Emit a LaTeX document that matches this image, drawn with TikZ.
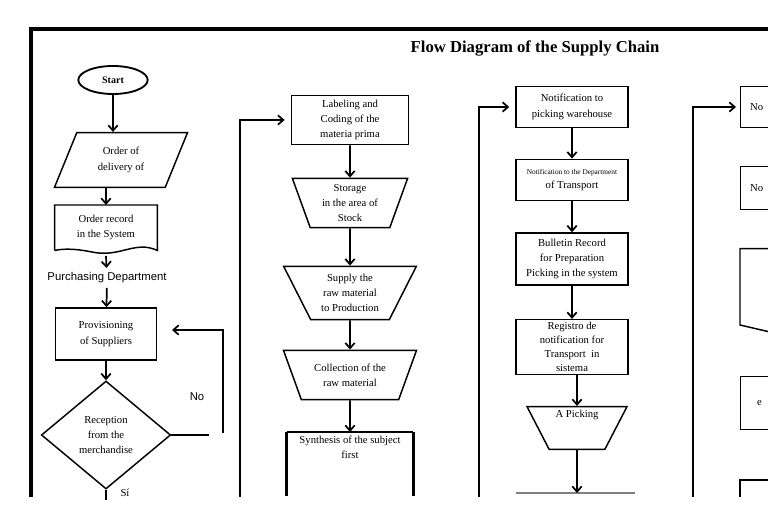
\documentclass[tikz,border=0pt]{standalone}
\usepackage{fontspec}
\setmainfont{Liberation Serif}
\newfontfamily\labelsans{Liberation Sans}
\usetikzlibrary{shapes.geometric}
\usetikzlibrary{arrows.meta}

\tikzset{
	stage/.style={draw, line width=1.1pt, align=center, inner sep=1pt,
		font=\fontsize{8}{11.5}\selectfont},
	store/.style={stage, trapezium, shape border rotate=180, trapezium stretches=true},
	flow/.style={line width=1.3pt, -{Straight Barb[length=4pt,width=7pt]}},
	rail/.style={line width=1.1pt}
}

\begin{document}
\begin{tikzpicture}[x=0.75pt, y=-0.75pt]
	\useasboundingbox (0,0) rectangle (768,523);
	% frame and title
	\draw[line width=2.4pt] (31,497) -- (31,29) -- (770,29);
	\node[font=\bfseries\fontsize{12.5}{14}\selectfont] (title) at (535,48) {Flow Diagram of the Supply Chain};

	% first column
	\node[stage, ellipse, line width=1.4pt, minimum width=52pt, minimum height=21pt, font=\bfseries\fontsize{7.5}{9}\selectfont] (start) at (113,80) {Start};
	\node[stage, trapezium, trapezium left angle=66, trapezium right angle=114, trapezium stretches=true, minimum width=100pt, minimum height=41pt] (order) at (121,160) {Order of\\ delivery of};
	\node[stage, draw=none, minimum width=76pt, minimum height=33pt, anchor=north] (record) at (106,205) {Order record\\ in the System};
	\draw[stage] (record.south west) -- (record.north west) -- (record.north east) -- (record.south east)
		.. controls (135,240) and (120,258) .. (92,252) .. controls (72,248) and (62,249) .. (record.south west);
	\node[font=\labelsans\fontsize{8.5}{10}\selectfont] (purch) at (107,278) {Purchasing Department};
	\node[stage, minimum width=76pt, minimum height=39pt] (prov) at (106,334) {Provisioning\\ of Suppliers};
	\node[stage, diamond, minimum width=97pt, minimum height=81pt] (recep) at (106,435) {Reception\\ from the\\ merchandise};
	\node[font=\labelsans\fontsize{8.5}{10}\selectfont] (no) at (197,397) {No};
	\node[font=\fontsize{8}{9}\selectfont] (si) at (125,493) {Sí};
	\coordinate (noend) at (209,435);
	\coordinate (nobase) at (223,433);
	\coordinate (nohead) at (172,330);
	\coordinate (sidown) at (106,500);

	\draw[flow] (start) -- (start.south |- order.north);
	\draw[flow] (record.north |- order.south) -- (record);
	\draw[flow] (record.south |- 0,256) -- (purch);
	\draw[flow] (purch) -- (prov);
	\draw[flow] (prov) -- (recep);
	\draw[rail] (recep.east) -- (noend);
	\draw[flow] (nobase) |- (nohead);
	\draw[rail] (recep.south) -- (sidown);

	% second column
	\coordinate (link1) at (240,497);
	\node[stage, minimum width=88pt, minimum height=37pt] (label) at (350,120) {Labeling and\\ Coding of the\\ materia prima};
	\node[store, trapezium left angle=72, trapezium right angle=72, minimum width=87pt, minimum height=37pt] (stock) at (350,203) {Storage\\ in the area of\\ Stock};
	\node[store, trapezium left angle=63, trapezium right angle=63, minimum width=100pt, minimum height=40pt] (supply) at (350,293) {Supply the\\ raw material\\ to Production};
	\node[store, trapezium left angle=62, trapezium right angle=62, minimum width=100pt, minimum height=37pt] (collect) at (350,375) {Collection of the\\ raw material};
	\node[stage, draw=none, minimum width=94pt, minimum height=47pt, anchor=north] (synth) at (350,432) {Synthesis of the subject\\ first\\[14pt]};
	\draw[line width=0.8pt] (synth.north west) -- (synth.north east);
	\draw[line width=2.2pt] (synth.north west) -- (synth.south west);
	\draw[line width=2.2pt] (synth.north east) -- (synth.south east);

	\draw[flow] (link1) |- ([xshift=-4.5pt]label.west);
	\draw[flow] (label) -- (stock);
	\draw[flow] (stock) -- (supply);
	\draw[flow] (supply) -- (collect);
	\draw[flow] (collect) -- (synth.north);

	% third column
	\coordinate (link2) at (479,497);
	\node[stage, minimum width=84pt, minimum height=31pt] (pickwh) at (572,107) {Notification to\\ picking warehouse};
	\node[stage, minimum width=84pt, minimum height=31pt, font=\fontsize{5.5}{11}\selectfont] (transp) at (572,180) {Notification to the Department\\ {\fontsize{8}{9}\selectfont of Transport}};
	\node[stage, minimum width=84pt, minimum height=39pt] (bullet) at (572,259) {Bulletin Record\\ for Preparation\\ Picking in the system};
	\node[stage, minimum width=84pt, minimum height=41pt, font=\fontsize{8}{10.5}\selectfont] (regist) at (572,347) {Registro de\\ notification for\\ Transport\ \ in\\ sistema};
	\node[store, trapezium left angle=65, trapezium right angle=65, minimum width=75pt, minimum height=32pt] (picking) at (577,428) {A Picking\\[10pt]};
	\coordinate (pickend) at (577,493);
	\draw[gray, line width=0.8pt] (516,493) -- (635,493);

	\draw[flow] (link2) |- ([xshift=-4.5pt]pickwh.west);
	\draw[flow] (pickwh) -- (transp);
	\draw[flow] (transp) -- (bullet);
	\draw[flow] (bullet) -- (regist);
	\draw[flow] (regist.south -| picking.north) -- (picking.north);
	\draw[flow] (picking.south) -- (pickend);

	% fourth column, cut at the page edge
	\coordinate (link3) at (693,497);
	\node[stage, minimum width=84pt, minimum height=31pt, anchor=west, text width=70pt, align=left] (next1) at (740,107) {No\\[8pt]};
	\node[stage, minimum width=84pt, minimum height=32pt, anchor=west, text width=70pt, align=left] (next2) at (740,188) {No\\[8pt]};
	\node[stage, minimum width=84pt, minimum height=58pt, anchor=west, draw=none] (next3) at (740,288) {};
	\draw[stage] (next3.north east) -- (next3.north west) -- (740,325) -- (770,332);
	\node[stage, minimum width=84pt, minimum height=40pt, anchor=west, text width=70pt, align=left] (next4) at (740,403) {\ \ e};
	\draw[stage] (740,497) -- (740,480) -- (770,480);

	\draw[flow] (link3) |- ([xshift=-3pt]next1.west);
\end{tikzpicture}
\end{document}
